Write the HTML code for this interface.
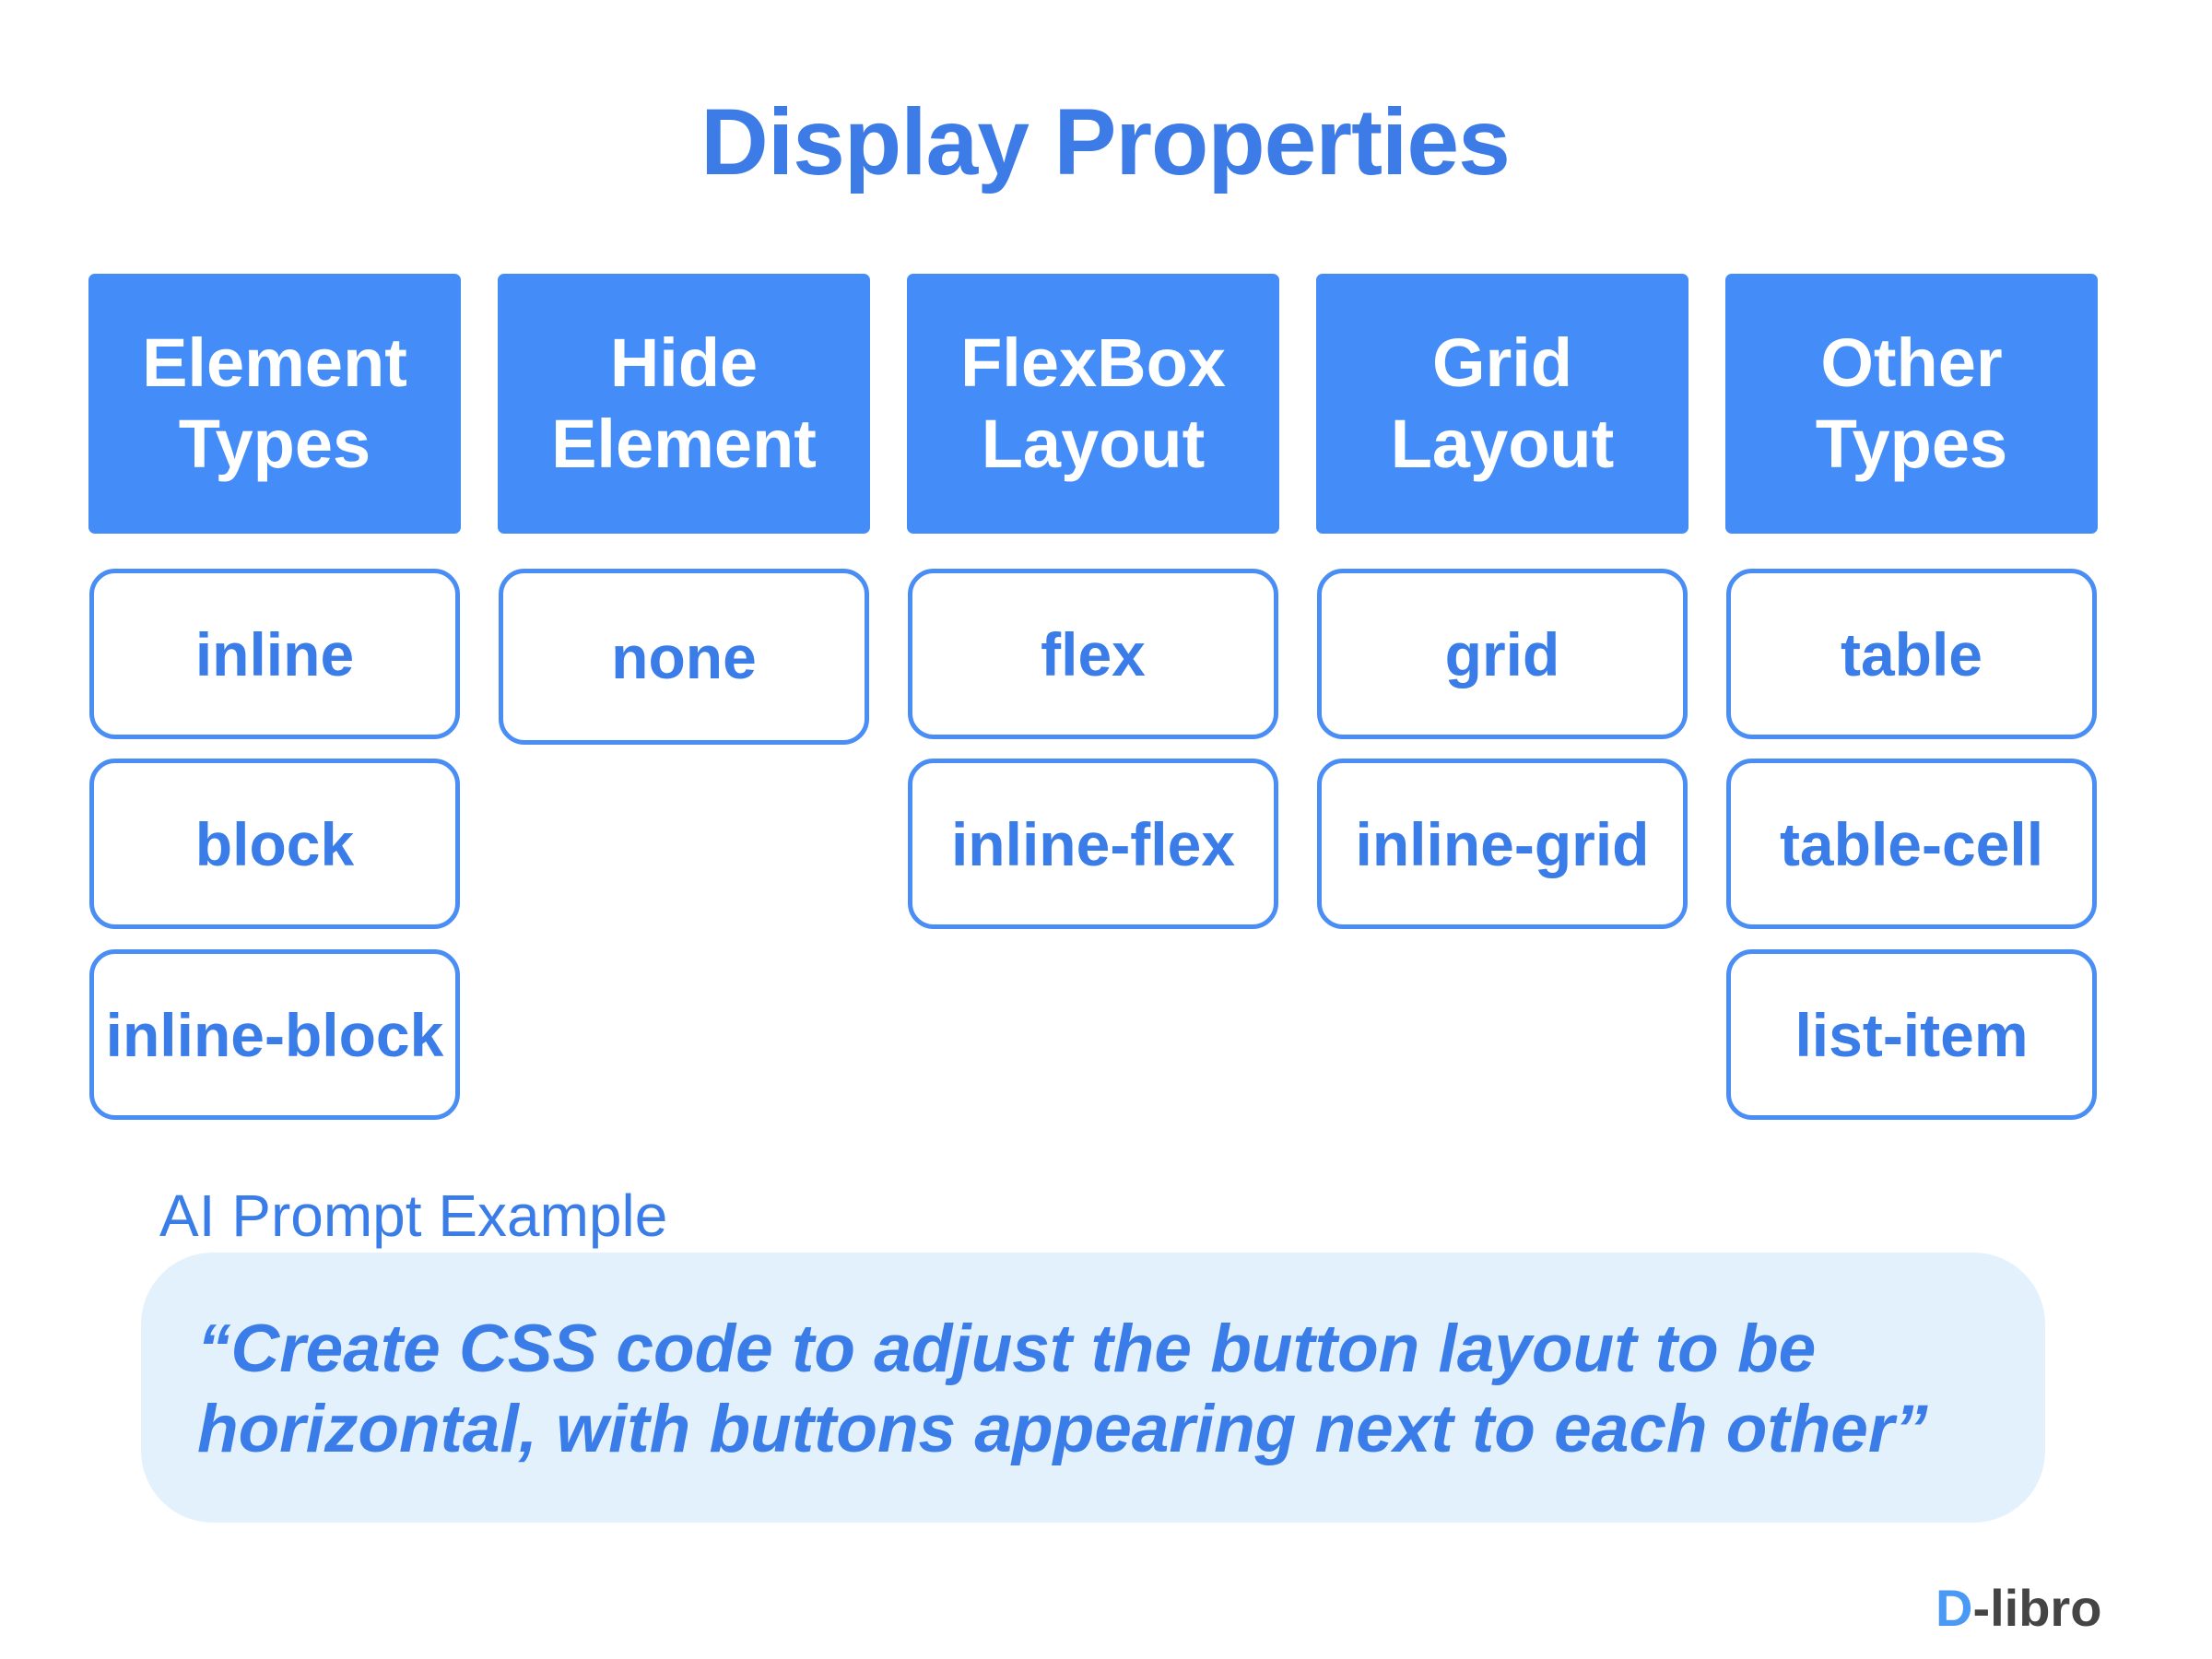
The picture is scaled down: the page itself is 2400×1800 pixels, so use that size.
<!DOCTYPE html>
<html><head><meta charset="utf-8"><style>
body{margin:0;width:2400px;height:1800px;background:#fff;position:relative;overflow:hidden;font-family:"Liberation Sans",sans-serif}
.t{position:absolute;left:0;width:2398px;top:96px;text-align:center;font-weight:bold;font-size:102px;color:#3d7be6;letter-spacing:-1px}
.h{position:absolute;top:297px;width:404px;height:282px;background:#448cf8;border-radius:7px;color:#fff;font-weight:bold;font-size:74px;line-height:88px;display:flex;align-items:center;justify-content:center;text-align:center}
.b{position:absolute;box-sizing:border-box;width:402px;height:185px;border:5px solid #4a8ef5;border-radius:28px;color:#3a7de8;font-weight:bold;font-size:66px;display:flex;align-items:center;justify-content:center}
.ai{position:absolute;left:173px;top:1282px;font-size:64px;color:#3a7de8}
.p{position:absolute;left:153px;top:1359px;width:2066px;height:293px;background:#e3f1fc;border-radius:78px}
.pt{position:absolute;left:214px;top:1420px;font-weight:bold;font-style:italic;font-size:73px;line-height:87px;color:#3a7de8;white-space:nowrap}
.logo{position:absolute;left:2100px;top:1712px;font-size:56px;font-weight:bold;color:#444}
</style></head><body>
<div class="t">Display Properties</div>
<div class="h" style="left:96px">Element<br>Types</div>
<div class="h" style="left:540px">Hide<br>Element</div>
<div class="h" style="left:984px">FlexBox<br>Layout</div>
<div class="h" style="left:1428px">Grid<br>Layout</div>
<div class="h" style="left:1872px">Other<br>Types</div>

<div class="b" style="left:97px;top:617px">inline</div>
<div class="b" style="left:97px;top:823px">block</div>
<div class="b" style="left:97px;top:1030px">inline-block</div>
<div class="b" style="left:541px;top:617px;height:191px">none</div>
<div class="b" style="left:985px;top:617px">flex</div>
<div class="b" style="left:985px;top:823px">inline-flex</div>
<div class="b" style="left:1429px;top:617px">grid</div>
<div class="b" style="left:1429px;top:823px">inline-grid</div>
<div class="b" style="left:1873px;top:617px">table</div>
<div class="b" style="left:1873px;top:823px">table-cell</div>
<div class="b" style="left:1873px;top:1030px">list-item</div>

<div class="ai">AI Prompt Example</div>
<div class="p"></div>
<div class="pt">“Create CSS code to adjust the button layout to be<br>horizontal, with buttons appearing next to each other”</div>
<div class="logo"><span style="color:#4a9af5">D</span>-libro</div>
</body></html>
